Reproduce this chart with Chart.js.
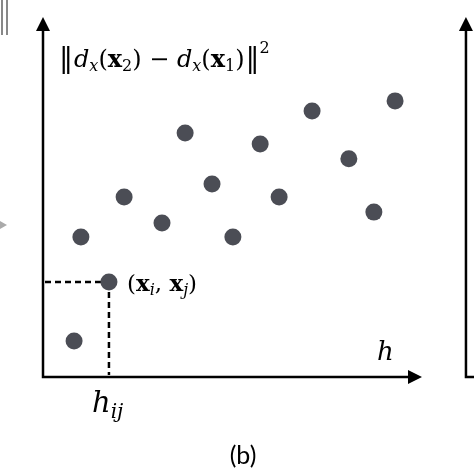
<!DOCTYPE html>
<html>
<head>
<meta charset="utf-8">
<script src="https://cdn.jsdelivr.net/npm/chart.js@4"></script>
<style>
  html, body { margin: 0; padding: 0; background: #fff; }
  #wrap { width: 474px; height: 474px; position: relative; }
</style>
</head>
<body>
<div id="wrap"><canvas id="plot" width="474" height="474"></canvas></div>
<script>
// lag distance h vs squared difference, arbitrary units 0..10
const hValues = [0.82, 1.74, 1.0, 2.14, 3.14, 3.75, 4.46, 5.01, 5.73, 6.23, 7.10, 8.07, 8.73, 9.29];
const diffValues = [1.0, 2.64, 3.89, 5.0, 4.28, 6.78, 5.36, 3.89, 6.47, 5.0, 7.39, 6.06, 4.58, 7.67];
const highlightIndex = 1; // the (x_i, x_j) pair

const serif = "'DejaVu Serif', serif";

function drawRuns(ctx, x, y, runs) {
  let cx = x;
  runs.forEach((r) => {
    ctx.font = (r.style || "normal") + " " + r.size + "px " + serif;
    ctx.fillText(r.t, cx, y + (r.dy || 0));
    cx += ctx.measureText(r.t).width + (r.gap || 0);
  });
  return cx;
}

function arrowHead(ctx, x, y, dir) {
  ctx.beginPath();
  if (dir === "up") {
    ctx.moveTo(x, y);
    ctx.lineTo(x - 7, y + 14);
    ctx.lineTo(x + 7, y + 14);
  } else {
    ctx.moveTo(x, y);
    ctx.lineTo(x - 14, y - 7);
    ctx.lineTo(x - 14, y + 7);
  }
  ctx.closePath();
  ctx.fill();
}

const axesPlugin = {
  id: "sketchAxes",
  beforeDatasetsDraw(chart) {
    const { ctx, scales } = chart;
    const xs = scales.x, ys = scales.y;
    const x0 = xs.getPixelForValue(0), y0 = ys.getPixelForValue(0);
    const xEnd = xs.getPixelForValue(10), yEnd = ys.getPixelForValue(10);

    ctx.save();
    ctx.strokeStyle = "#000";
    ctx.fillStyle = "#000";
    ctx.lineWidth = 2.5;

    // main axes
    ctx.beginPath();
    ctx.moveTo(x0, yEnd + 10);
    ctx.lineTo(x0, y0);
    ctx.lineTo(xEnd - 10, y0);
    ctx.stroke();
    arrowHead(ctx, x0, yEnd, "up");
    arrowHead(ctx, xEnd, y0, "right");

    // neighbouring panel frame on the right edge
    const xr = xs.getPixelForValue(11.16);
    ctx.beginPath();
    ctx.moveTo(xr, yEnd + 10);
    ctx.lineTo(xr, y0);
    ctx.lineTo(chart.width, y0);
    ctx.stroke();
    arrowHead(ctx, xr, yEnd, "up");

    // neighbouring panel fragments on the left edge
    ctx.fillStyle = "#888";
    ctx.fillRect(1, 0, 2, 35);
    ctx.fillRect(6, 0, 2, 35);
    ctx.fillStyle = "#aaa";
    ctx.beginPath();
    ctx.moveTo(0, 221);
    ctx.lineTo(7, 225);
    ctx.lineTo(0, 229);
    ctx.closePath();
    ctx.fill();

    // dashed guides to highlighted pair
    const px = xs.getPixelForValue(hValues[highlightIndex]);
    const py = ys.getPixelForValue(diffValues[highlightIndex]);
    ctx.setLineDash([6, 4]);
    ctx.strokeStyle = "#000";
    ctx.beginPath();
    ctx.moveTo(x0 + 2, py);
    ctx.lineTo(px, py);
    ctx.moveTo(px, py);
    ctx.lineTo(px, y0 - 2);
    ctx.stroke();
    ctx.setLineDash([]);

    // labels
    ctx.fillStyle = "#000";
    ctx.textBaseline = "alphabetic";
    ctx.textAlign = "left";
    drawRuns(ctx, 59, 67, [
      { t: "\u2016", size: 28, gap: 1 },
      { t: "d", size: 24, style: "italic" },
      { t: "x", size: 16, style: "italic", dy: 4 },
      { t: "(", size: 24 },
      { t: "x", size: 24, style: "bold" },
      { t: "2", size: 16, dy: 4 },
      { t: ") \u2212 ", size: 24 },
      { t: "d", size: 24, style: "italic" },
      { t: "x", size: 16, style: "italic", dy: 4 },
      { t: "(", size: 24 },
      { t: "x", size: 24, style: "bold" },
      { t: "1", size: 16, dy: 4 },
      { t: ")", size: 24, gap: 1 },
      { t: "\u2016", size: 28 },
      { t: "2", size: 16, dy: -14 },
    ]);

    drawRuns(ctx, 127, 291, [
      { t: "(", size: 23 },
      { t: "x", size: 23, style: "bold" },
      { t: "i", size: 16, style: "italic", dy: 4 },
      { t: ", ", size: 23 },
      { t: "x", size: 23, style: "bold" },
      { t: "j", size: 16, style: "italic", dy: 4 },
      { t: ")", size: 23 },
    ]);

    drawRuns(ctx, 377, 360, [{ t: "h", size: 26, style: "italic" }]);

    drawRuns(ctx, 92, 412, [
      { t: "h", size: 29, style: "italic" },
      { t: "ij", size: 20, style: "italic", dy: 6 },
    ]);

    ctx.font = "normal 25px 'Lato', sans-serif";
    ctx.textAlign = "center";
    ctx.fillText("(b)", 243, 464);
    ctx.restore();
  },
};

new Chart(document.getElementById("plot").getContext("2d"), {
  type: "scatter",
  data: {
    datasets: [{
      data: hValues.map((h, i) => ({ x: h, y: diffValues[i] })),
      backgroundColor: "#4b4d55",
      borderWidth: 0,
      pointRadius: 8.5,
      pointHoverRadius: 8.5,
    }],
  },
  options: {
    responsive: false,
    animation: false,
    events: [],
    layout: { padding: { left: 43, right: 52, top: 17, bottom: 97 } },
    plugins: { legend: { display: false }, tooltip: { enabled: false } },
    scales: {
      x: { type: "linear", display: false, min: 0, max: 10 },
      y: { type: "linear", display: false, min: 0, max: 10 },
    },
  },
  plugins: [axesPlugin],
});
</script>
</body>
</html>
